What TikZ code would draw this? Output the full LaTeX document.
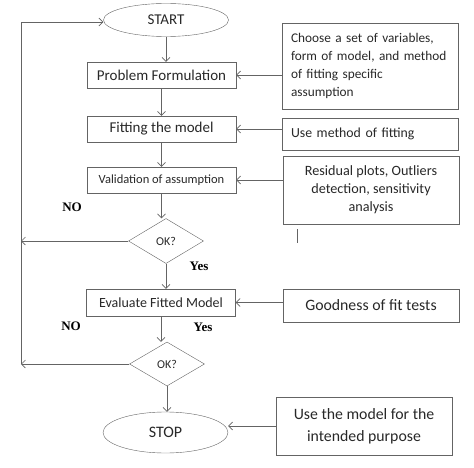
\documentclass[tikz,border=0pt]{standalone}
\usepackage{fontspec}
\setmainfont{Carlito}
\newfontfamily\lblfont{Liberation Serif}
\usetikzlibrary{shapes.geometric,arrows.meta,positioning}
\definecolor{lineGray}{RGB}{100,100,100}
\definecolor{textDark}{RGB}{40,40,40}
\tikzset{
  proc/.style={draw=lineGray,minimum width=149pt,minimum height=26pt,inner sep=0pt,
               text=textDark,font=\fontsize{15}{18}\selectfont},
  term/.style={draw=lineGray,ellipse,minimum width=125pt,minimum height=34pt,inner sep=0pt,
               text=textDark,font=\fontsize{15}{18}\selectfont},
  dec/.style={draw=lineGray,diamond,minimum width=75pt,minimum height=45pt,inner sep=0pt,
              text=textDark,font=\fontsize{12}{14}\selectfont},
  note/.style={draw=lineGray,minimum width=176pt,inner sep=0pt,text=textDark,
               font=\fontsize{13.8}{18}\selectfont},
  arr/.style={-{Straight Barb[length=4pt,width=8pt]},lineGray,semithick},
  lnk/.style={lineGray,semithick},
  lbl/.style={font=\lblfont\bfseries\fontsize{13}{15}\selectfont,text=black},
}

\begin{document}
\begin{tikzpicture}[x=1pt,y=-1pt]
  \useasboundingbox (0,0) rectangle (474,468);
  % main flow
  \node[term,minimum height=33pt]  (start) at (166,20)    {START};
  \node[proc]                      (prob)  at (161.5,75)  {Problem Formulation};
  \node[proc]                      (fit)   at (161.5,129) {Fitting the model};
  \node[proc,font=\fontsize{12.5}{15}\selectfont] (val) at (161.5,180) {Validation of assumption};
  \node[dec]                       (ok1)   at (166,241)   {OK?};
  \node[proc,minimum height=27pt,font=\fontsize{14}{17}\selectfont] (eval) at (161,302.5) {Evaluate Fitted Model};
  \node[dec,minimum height=44pt]   (ok2)   at (167,364)   {OK?};
  \node[term,minimum height=41pt,font=\fontsize{16}{18}\selectfont] (stop) at (165.5,432.5) {STOP};
  % side notes
  \node[note,minimum height=86pt,inner xsep=9pt,text width=158pt,align=left,
        font=\fontsize{13.3}{18}\selectfont] (n1) at (370,66)
    {Choose a set of variables,\\form of model, and method\\of fitting specific\\assumption};
  \node[note,minimum height=32pt,inner xsep=9pt,text width=158pt,align=left] (n2) at (370,134) {Use method of fitting};
  \node[note,minimum height=68pt,align=center,font=\fontsize{14.2}{18}\selectfont] (n3) at (371,190)
    {Residual plots, Outliers\\detection, sensitivity\\analysis};
  \node[note,minimum height=33pt,font=\fontsize{15.8}{19}\selectfont] (n4) at (371,305.5) {Goodness of fit tests};
  \node[note,minimum height=58pt,align=center,font=\fontsize{15.8}{22}\selectfont] (n5) at (364,426)
    {Use the model for the\\intended purpose};
  % labels
  \node[lbl] (no1)  at (72,207)  {NO};
  \node[lbl] (yes1) at (199,266) {Yes};
  \node[lbl] (no2)  at (71,326)  {NO};
  \node[lbl] (yes2) at (203,327) {Yes};
  % loop back
  \coordinate (loopTop) at (21,22);
  \coordinate (loopA)   at (21,241);
  \coordinate (loopB)   at (21,364);
  % arrows down
  \foreach \a/\b in {start/prob,prob/fit,fit/val,val/ok1,ok1/eval,eval/ok2,ok2/stop}
    \draw[arr] (\a.south) -- (\a.south |- \b.north);
  % arrows from notes
  \foreach \a/\b in {n1/prob,n2/fit,n3/val,n4/eval}
    \draw[arr] (\a.west |- \b.east) -- (\b.east);
  \draw[arr] (n5.west) -- (stop.east |- n5.west);
  \draw[arr] (ok1.west) -- (loopA);
  \draw[arr] (ok2.west) -- (loopB);
  \draw[arr] (loopB) -- (loopTop) -- (start.west |- loopTop);
  \draw[lnk] (297,229) -- (297,243);
\end{tikzpicture}
\end{document}
